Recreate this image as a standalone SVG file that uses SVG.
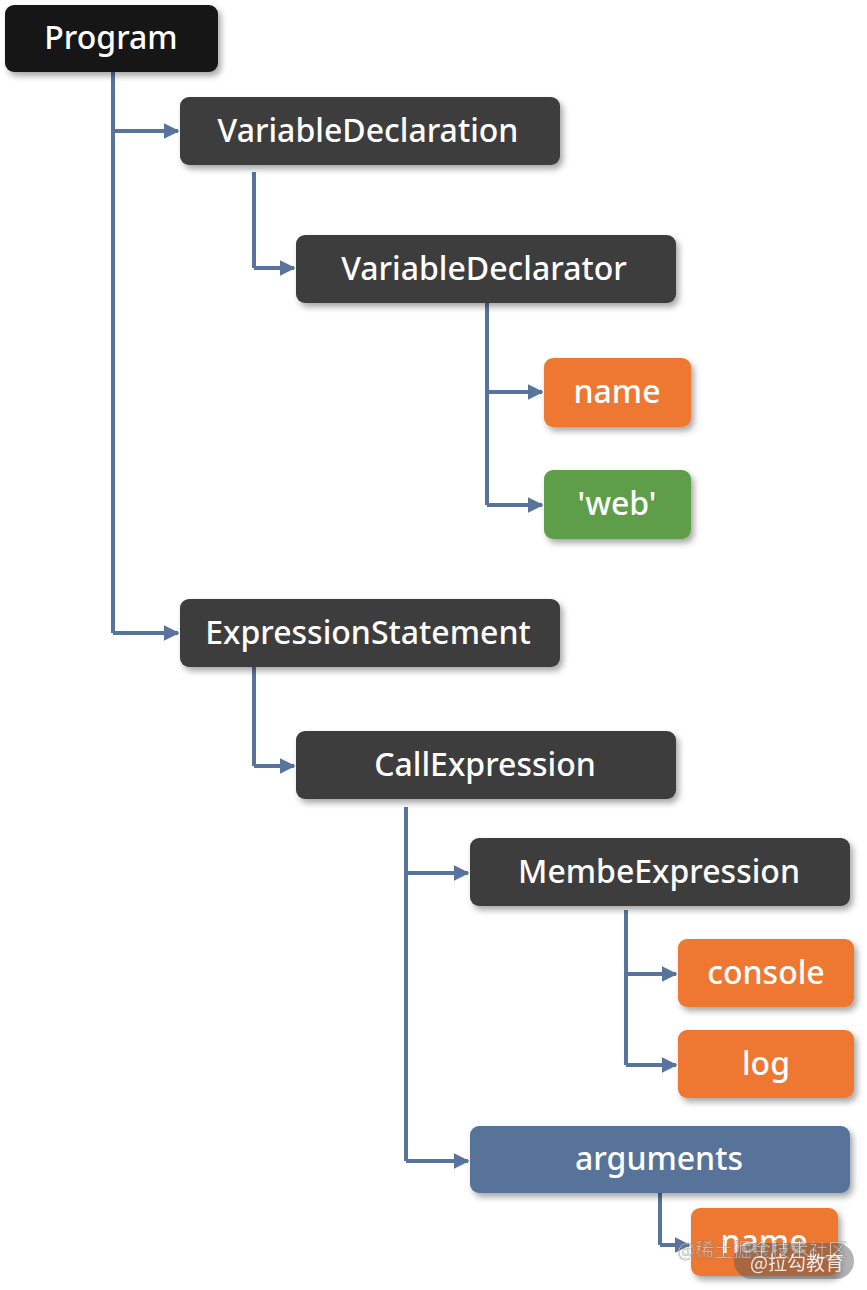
<svg xmlns="http://www.w3.org/2000/svg" width="867" height="1290" viewBox="0 0 867 1290">
<defs>
<filter id="sh" x="-10%" y="-20%" width="130%" height="150%"><feDropShadow dx="3" dy="4" stdDeviation="3" flood-color="#000" flood-opacity="0.35"/></filter>
<marker id="ar" viewBox="0 0 10 10" refX="9" refY="5" markerWidth="4" markerHeight="4" orient="auto" markerUnits="strokeWidth"><path d="M0,0 L10,5 L0,10 z" fill="#58739c"/></marker>
<style>
.n rect{filter:url(#sh)}
.n text{font-family:"Noto Sans","Open Sans",sans-serif;font-size:32px;font-weight:500;fill:#fff;text-anchor:middle;dominant-baseline:central}
.k{fill:#161616}.d{fill:#3c3c3c}.o{fill:#ee7733}.g{fill:#5e9e48}.b{fill:#587399}
#c path{fill:none;stroke:#58739c;stroke-width:4}
#c .a{marker-end:url(#ar)}
</style>
</defs>
<rect width="867" height="1290" fill="#fff"/>
<g id="c">
<path d="M113,72 V633"/>
<path class="a" d="M113,131 H178"/>
<path class="a" d="M113,633 H178"/>
<path d="M254,172 V268"/><path class="a" d="M254,268 H294"/>
<path d="M487,303 V505"/><path class="a" d="M487,392 H542"/><path class="a" d="M487,505 H542"/>
<path d="M254,667 V766"/><path class="a" d="M254,766 H294"/>
<path d="M406,807 V1161"/><path class="a" d="M406,873 H468"/><path class="a" d="M406,1161 H468"/>
<path d="M626,910 V1065"/><path class="a" d="M626,974 H676"/><path class="a" d="M626,1065 H676"/>
<path d="M660,1193 V1245"/><path class="a" d="M660,1245 H689"/>
</g>
<g id="program" class="n"><rect class="k" x="5" y="5" width="213" height="67" rx="9"/><text x="111" y="36">Program</text></g>
<g id="vdecl" class="n"><rect class="d" x="180" y="97" width="380" height="68" rx="9"/><text x="368" y="129">VariableDeclaration</text></g>
<g id="vdtor" class="n"><rect class="d" x="296" y="235" width="380" height="68" rx="9"/><text x="484" y="267">VariableDeclarator</text></g>
<g id="name1" class="n"><rect class="o" x="544" y="358" width="147" height="69" rx="9"/><text x="617" y="390">name</text></g>
<g id="web" class="n"><rect class="g" x="544" y="470" width="147" height="69" rx="9"/><text x="617" y="502">'web'</text></g>
<g id="expr" class="n"><rect class="d" x="180" y="599" width="380" height="68" rx="9"/><text x="368" y="631">ExpressionStatement</text></g>
<g id="call" class="n"><rect class="d" x="296" y="731" width="380" height="68" rx="9"/><text x="485" y="763">CallExpression</text></g>
<g id="membe" class="n"><rect class="d" x="470" y="838" width="380" height="68" rx="9"/><text x="659" y="870">MembeExpression</text></g>
<g id="console" class="n"><rect class="o" x="678" y="939" width="176" height="68" rx="9"/><text x="766" y="971">console</text></g>
<g id="log" class="n"><rect class="o" x="678" y="1030" width="176" height="68" rx="9"/><text x="766" y="1062">log</text></g>
<g id="arguments" class="n"><rect class="b" x="470" y="1126" width="380" height="67" rx="9"/><text x="659" y="1157">arguments</text></g>
<g id="name2" class="n"><rect class="o" x="691" y="1208" width="147" height="68" rx="9"/><text x="764" y="1240">name</text></g>
<g id="wm" font-family="'Noto Sans CJK SC',sans-serif" font-size="19">
<rect x="734" y="1243" width="120" height="36" rx="18" fill="#555" opacity="0.45"/>
<text x="677" y="1257" fill="#fff" opacity="0.6" stroke="#666" stroke-width="0.5">@稀土掘金技术社区</text>
<text x="750" y="1270" fill="#fff" opacity="0.85">@拉勾教育</text>
</g>
</svg>
